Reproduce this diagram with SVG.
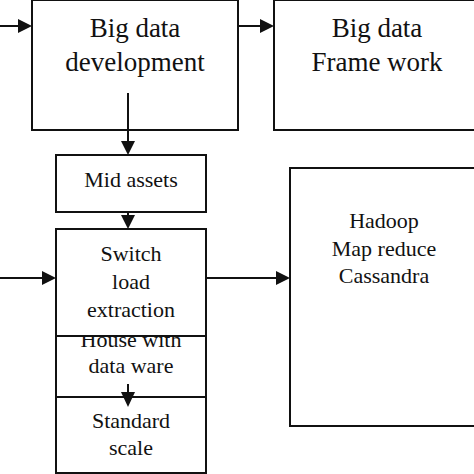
<svg xmlns="http://www.w3.org/2000/svg" width="474" height="474" viewBox="0 0 474 474">
<style>
.box{fill:#fff;stroke:#111;stroke-width:2}
.t{font-family:'Liberation Serif','Times New Roman','DejaVu Serif','Noto Serif',serif;fill:#111;text-anchor:middle}
.big{font-size:27px}
.mid{font-size:22px}
.ln{stroke:#111;stroke-width:2;fill:none}
.ah{fill:#111}
</style>
<rect width="474" height="474" fill="#fff"/>
<g id="node-big-data-development">
<rect class="box" x="32" y="0" width="206" height="130"/>
<text class="t big" font-family="Liberation Serif, serif" x="135" y="37">Big data</text>
<text class="t big" font-family="Liberation Serif, serif" x="135" y="71">development</text>
</g>
<g id="node-big-data-framework">
<rect class="box" x="274" y="0" width="210" height="130"/>
<text class="t big" x="377" y="37">Big data</text>
<text class="t big" x="377" y="71">Frame work</text>
</g>
<g id="node-mid-assets">
<rect class="box" x="56" y="155" width="150" height="57"/>
<text class="t mid" x="131" y="187">Mid assets</text>
</g>
<g id="node-house">
<rect class="box" x="56" y="336" width="150" height="61"/>
<text class="t mid" x="131" y="347">House with</text>
<text class="t mid" x="131" y="373">data ware</text>
</g>
<g id="node-switch">
<rect class="box" x="56" y="229" width="150" height="107"/>
<text class="t mid" x="131" y="261">Switch</text>
<text class="t mid" x="131" y="289">load</text>
<text class="t mid" x="131" y="317">extraction</text>
</g>
<g id="node-standard">
<rect class="box" x="56" y="397" width="150" height="76"/>
<text class="t mid" x="131" y="428">Standard</text>
<text class="t mid" x="131" y="455">scale</text>
</g>
<g id="node-hadoop">
<rect class="box" x="290" y="168" width="194" height="258"/>
<text class="t mid" x="384" y="228">Hadoop</text>
<text class="t mid" x="384" y="256">Map reduce</text>
<text class="t mid" x="384" y="283">Cassandra</text>
</g>
<g id="connectors">
<line class="ln" x1="0" y1="26" x2="20" y2="26"/>
<polygon class="ah" points="32,26 18,19 18,33"/>
<line class="ln" x1="238" y1="26" x2="262" y2="26"/>
<polygon class="ah" points="274,26 260,19 260,33"/>
<line class="ln" x1="128" y1="93" x2="128" y2="143"/>
<polygon class="ah" points="128,155 121,141 135,141"/>
<line class="ln" x1="128" y1="212" x2="128" y2="218"/>
<polygon class="ah" points="128,229 121,215 135,215"/>
<line class="ln" x1="0" y1="278" x2="44" y2="278"/>
<polygon class="ah" points="56,278 42,271 42,285"/>
<line class="ln" x1="206" y1="278" x2="278" y2="278"/>
<polygon class="ah" points="290,278 276,271 276,285"/>
<line class="ln" x1="128" y1="384" x2="128" y2="394"/>
<polygon class="ah" points="128,407 121,392 135,392"/>
</g>
</svg>
